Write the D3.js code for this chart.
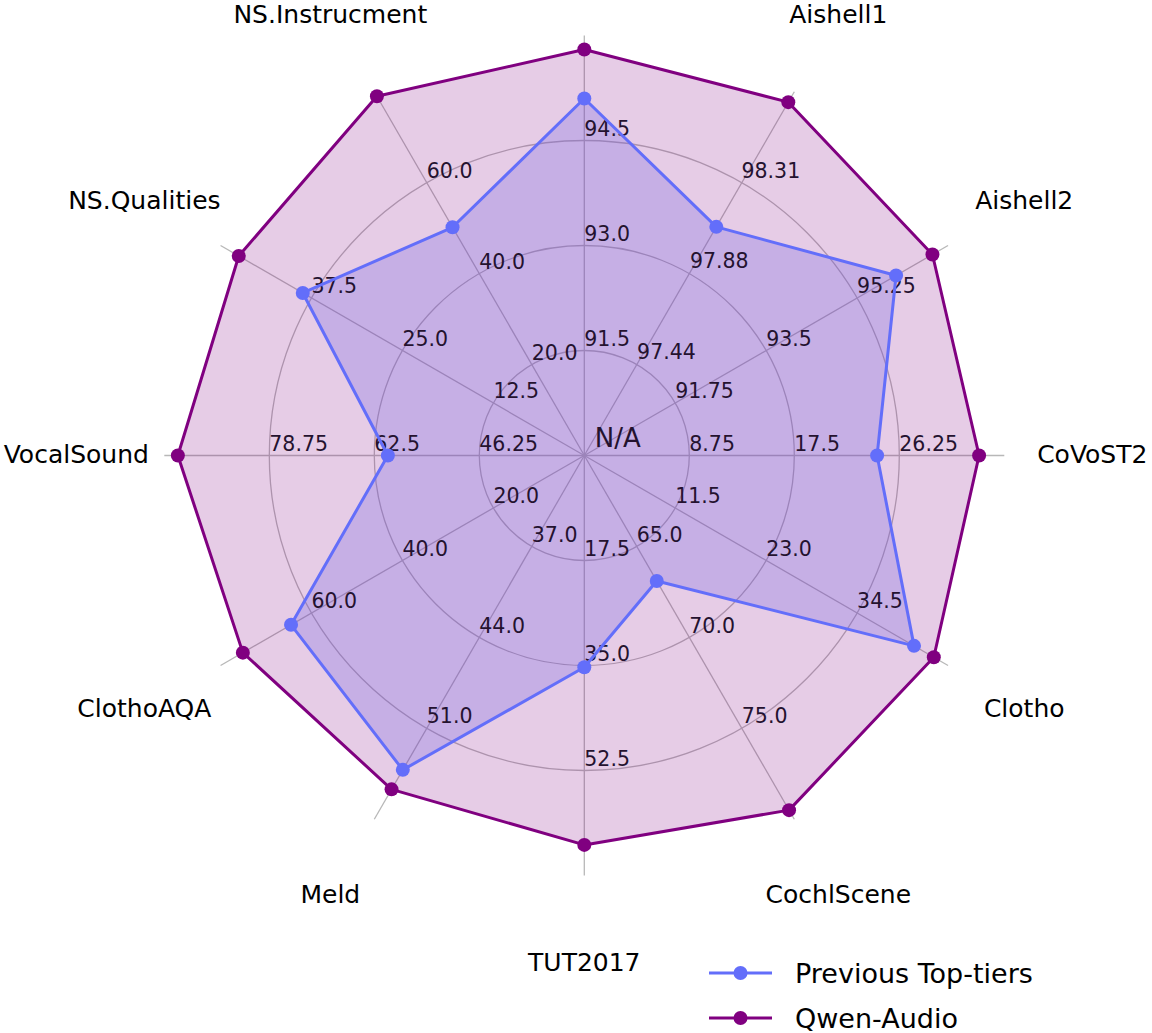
<!DOCTYPE html>
<html>
<head>
<meta charset="utf-8">
<script src="https://cdn.jsdelivr.net/npm/d3@7"></script>
<style>
  html, body { margin: 0; padding: 0; background: #ffffff; }
  svg { display: block; font-family: "DejaVu Sans", sans-serif; }
</style>
</head>
<body>
<svg id="chart" width="1152" height="1033"></svg>
<script>
// ---- data ----
const categories = ["LibriSpeech", "Aishell1", "Aishell2", "CoVoST2", "Clotho", "CochlScene",
                    "TUT2017", "Meld", "ClothoAQA", "VocalSound", "NS.Qualities", "NS.Instrucment"];
const axisMin = [90, 97, 90, 0, 0, 60, 0, 30, 0, 30, 0, 0];
const axisMax = [96, 98.75, 97, 35, 46, 80, 70, 58, 80, 95, 50, 80];
const tickLabels = [
  ["91.5", "93.0", "94.5"],
  ["97.44", "97.88", "98.31"],
  ["91.75", "93.5", "95.25"],
  ["8.75", "17.5", "26.25"],
  ["11.5", "23.0", "34.5"],
  ["65.0", "70.0", "75.0"],
  ["17.5", "35.0", "52.5"],
  ["37.0", "44.0", "51.0"],
  ["20.0", "40.0", "60.0"],
  ["46.25", "62.5", "78.75"],
  ["12.5", "25.0", "37.5"],
  ["20.0", "40.0", "60.0"]
];
const centerLabel = "N/A";
const seriesNames = ["Previous Top-tiers", "Qwen-Audio"];
const previousTop = [95.1, 98.1, 96.0, 24.4, 41.7, 66.9, 35.3, 54.2, 64.5, 60.4, 38.7, 50.2];
const qwenAudio   = [95.8, 98.7, 96.7, 32.9, 44.2, 79.5, 64.9, 55.7, 75.1, 92.9, 47.5, 79.0];

// ---- layout ----
const W = 1152, H = 1033;
const cx = 584.3, cy = 455.5, R = 420;
const colors = ["#636EFA", "#800080"];
const fillAlpha = [0.25, 0.2];

const svg = d3.select("#chart");
svg.append("rect").attr("width", W).attr("height", H).attr("fill", "#ffffff");
const g = svg.append("g").attr("transform", `translate(${cx},${cy})`);

const n = categories.length;
const angle = i => i * 2 * Math.PI / n;
const scales = categories.map((c, i) => d3.scaleLinear().domain([axisMin[i], axisMax[i]]).range([0, R]));
const gridScale = d3.scaleLinear().domain([0, 4]).range([0, R]);
const pos = (i, r) => [r * Math.sin(angle(i)), -r * Math.cos(angle(i))];

// grid circles
g.selectAll("circle.grid").data([1, 2, 3]).join("circle")
  .attr("class", "grid").attr("r", d => gridScale(d))
  .attr("fill", "none").attr("stroke", "#b8b8b8").attr("stroke-width", 1.3);

// spokes
g.selectAll("line.spoke").data(categories).join("line")
  .attr("class", "spoke")
  .attr("x1", 0).attr("y1", 0)
  .attr("x2", (d, i) => pos(i, R)[0]).attr("y2", (d, i) => pos(i, R)[1])
  .attr("stroke", "#b8b8b8").attr("stroke-width", 1.3);

const series = [previousTop, qwenAudio];
const radial = d3.lineRadial()
  .angle((d, i) => angle(i))
  .radius((d, i) => scales[i](d))
  .curve(d3.curveLinearClosed);

// fills
series.forEach((vals, s) => {
  g.append("path").attr("d", radial(vals))
    .attr("fill", colors[s]).attr("fill-opacity", fillAlpha[s]).attr("stroke", "none");
});

// tick labels (left-bottom anchored on each ring)
const tickFont = 20.5;
categories.forEach((c, i) => {
  tickLabels[i].forEach(t => {
    const r = scales[i](parseFloat(t));
    const p = pos(i, r);
    g.append("text")
      .attr("x", p[0]).attr("y", p[1] - tickFont * 0.236)
      .attr("font-size", tickFont).attr("fill", "#24122f")
      .attr("text-anchor", "start")
      .text(t);
  });
});

// center label
g.append("text").attr("x", 10.5).attr("y", -8.8)
  .attr("font-size", 26).attr("fill", "#24122f").text(centerLabel);

// lines and markers
series.forEach((vals, s) => {
  g.append("path").attr("d", radial(vals))
    .attr("fill", "none").attr("stroke", colors[s]).attr("stroke-width", 3)
    .attr("stroke-linejoin", "round");
  g.selectAll(null).data(vals).join("circle")
    .attr("cx", (d, i) => pos(i, scales[i](d))[0])
    .attr("cy", (d, i) => pos(i, scales[i](d))[1])
    .attr("r", 7).attr("fill", colors[s]);
});

// category labels
const labelR = 508, labelFont = 25;
categories.forEach((c, i) => {
  const p = pos(i, labelR);
  const ay = cy + p[1];
  if (ay < 0 || ay > H) return; // lies outside the picture
  g.append("text")
    .attr("x", p[0]).attr("y", p[1] + labelFont * 0.3)
    .attr("text-anchor", "middle").attr("font-size", labelFont).attr("fill", "#000000")
    .text(c);
});

// legend
const leg = svg.append("g");
const legY = [973, 1018];
seriesNames.forEach((name, s) => {
  leg.append("line").attr("x1", 709).attr("x2", 772).attr("y1", legY[s]).attr("y2", legY[s])
    .attr("stroke", colors[s]).attr("stroke-width", 3);
  leg.append("circle").attr("cx", 740.5).attr("cy", legY[s]).attr("r", 7).attr("fill", colors[s]);
  leg.append("text").attr("x", 795).attr("y", legY[s] + 27 * 0.36)
    .attr("font-size", 27).attr("fill", "#000000").text(name);
});
</script>
</body>
</html>
